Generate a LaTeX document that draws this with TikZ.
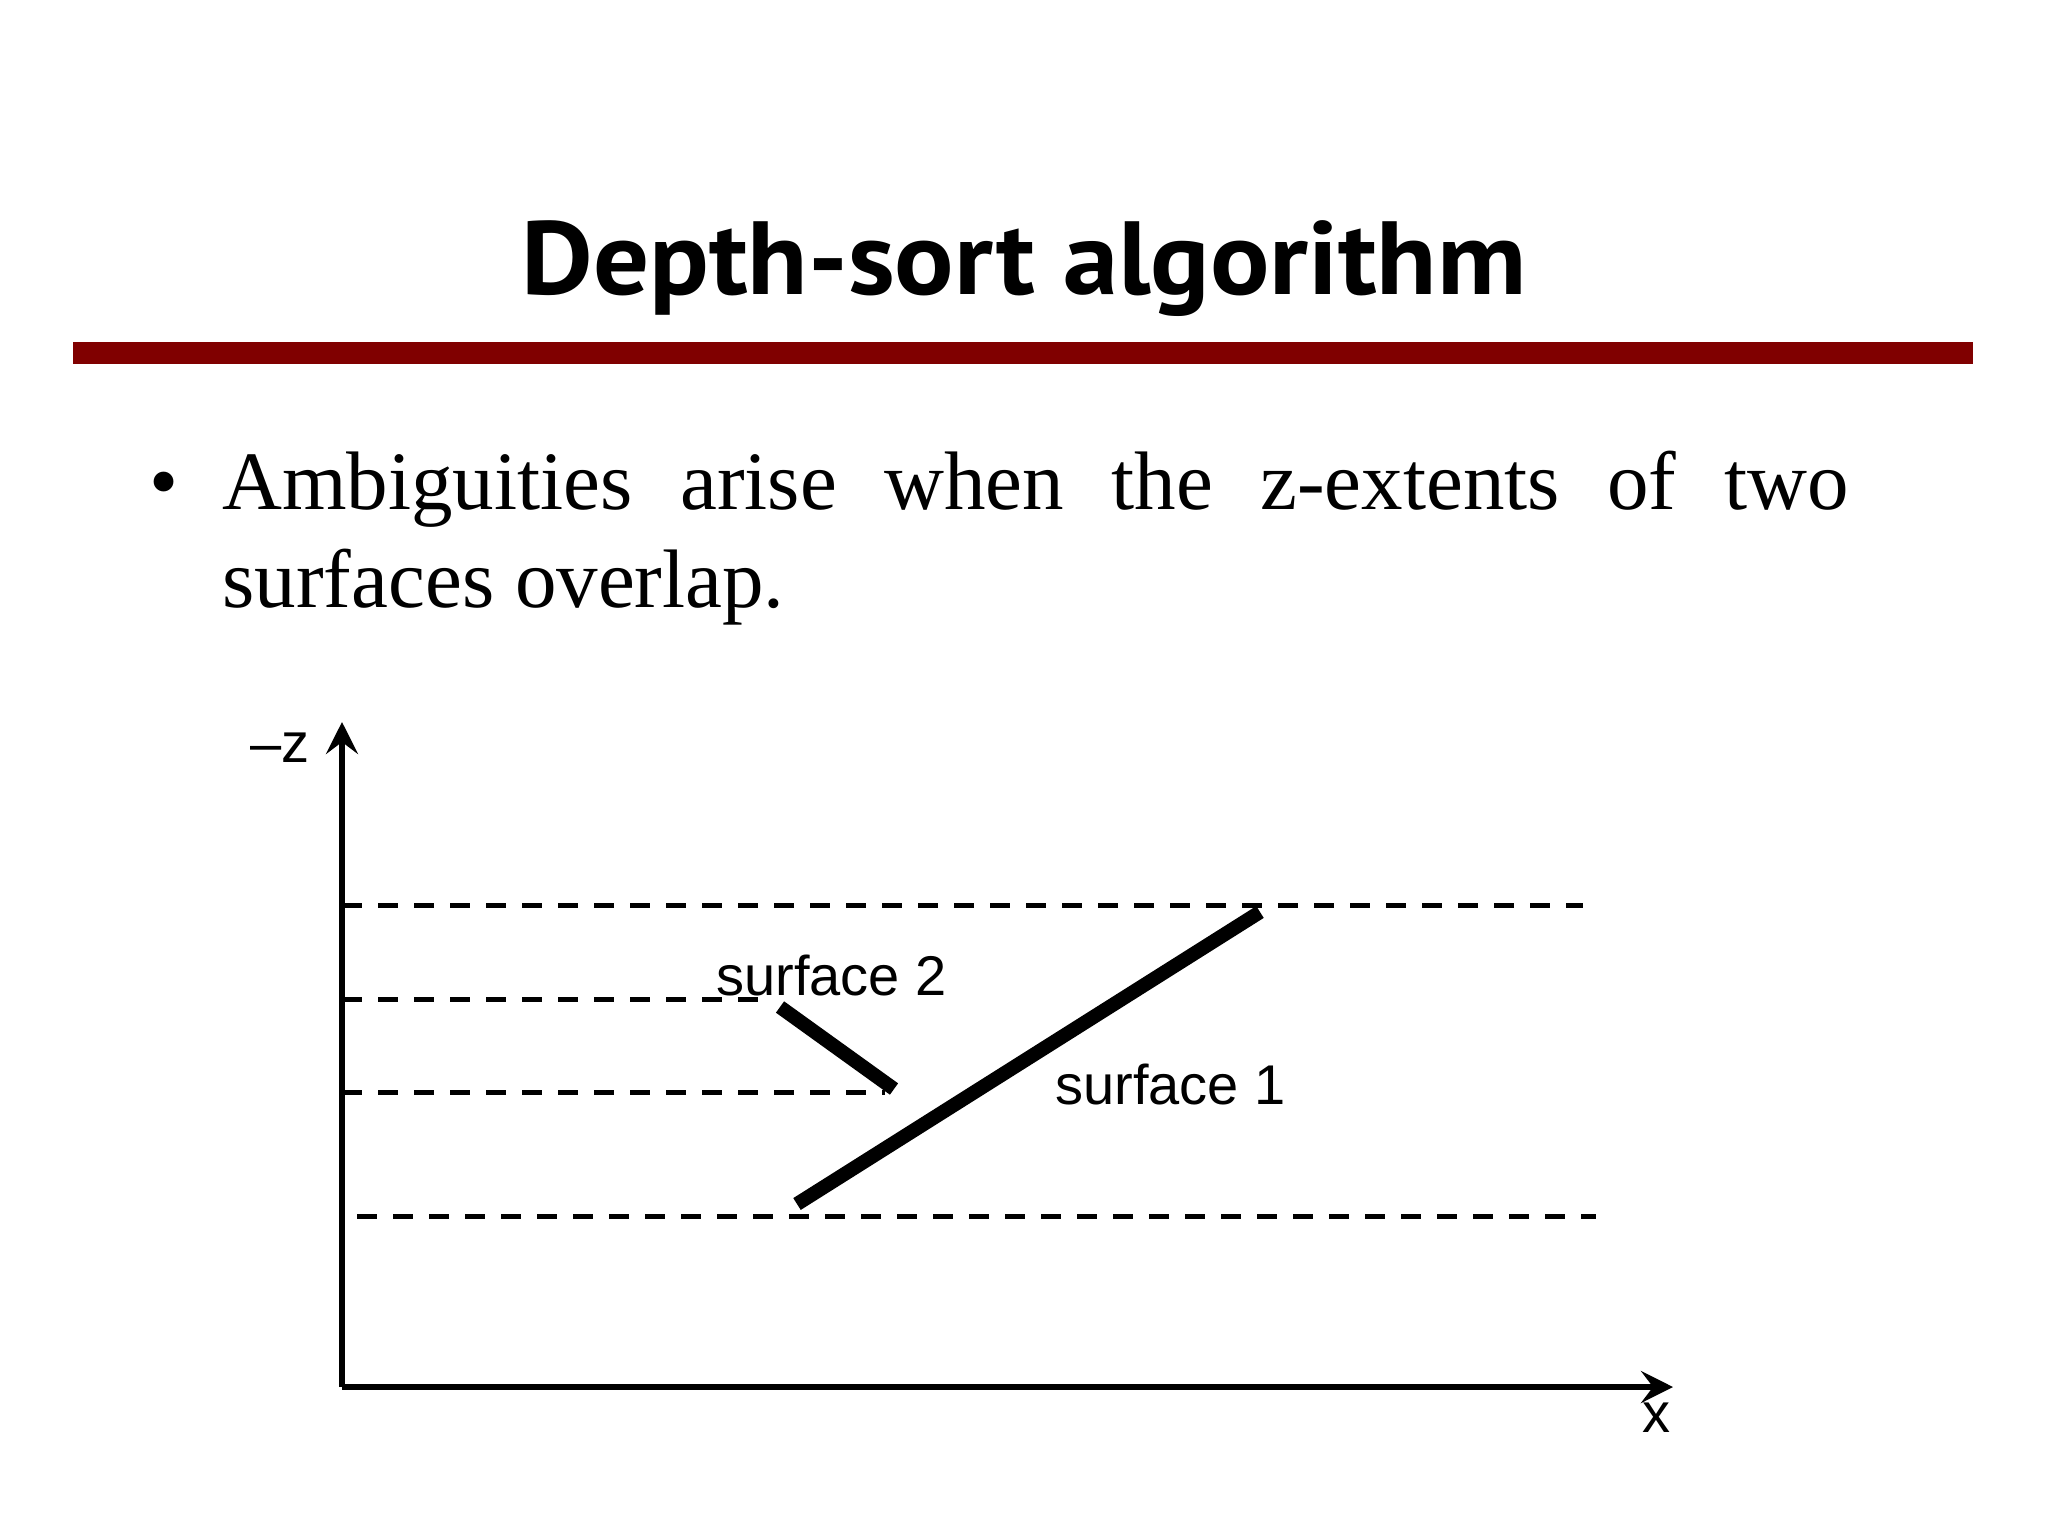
\documentclass[tikz,border=0pt]{standalone}
\usepackage{fontspec}
\setmainfont{Liberation Serif}
\newfontfamily\titlefont{PT Sans}[FakeStretch=1.065]
\newfontfamily\arialfont{Liberation Sans}
\usetikzlibrary{arrows.meta}
\definecolor{barred}{HTML}{800000}
\tikzset{
  axisline/.style={line width=3pt, -{Stealth[length=16pt,width=16pt,inset=6pt]}},
  dashline/.style={line width=2.5pt, dash pattern=on 10pt off 8pt},
  surfline/.style={line width=7pt},
  lbl/.style={anchor=base west, inner sep=0pt, font=\arialfont\fontsize{28}{32}\selectfont},
  bodytext/.style={anchor=base west, inner sep=0pt, font=\fontsize{41.5}{49}\selectfont}
}
\begin{document}
\begin{tikzpicture}[x=0.5pt,y=-0.5pt]
\useasboundingbox[fill=white] (0,0) rectangle (2048,1535);
% title
\node[anchor=base, inner sep=0pt, font=\titlefont\bfseries\fontsize{52}{60}\selectfont] (title) at (1024,295) {Depth-sort algorithm};
\fill[barred] (73,342) rectangle (1973,364);
% bullet text
\node[anchor=base, inner sep=0pt, font=\fontsize{41.5}{49}\selectfont] (dot) at (164,509) {•};
\node[bodytext] (line1) at (222,509) {\makebox[813pt][s]{Ambiguities arise when the z-extents of two}};
\node[bodytext] (line2) at (222,607) {surfaces overlap.};
% axes
\coordinate (O) at (342,1387);
\coordinate (ztop) at (342,722);
\coordinate (xend) at (1673,1387);
\draw[axisline] (O) -- (ztop);
\draw[axisline] (O) -- (xend);
\node[lbl] (zl) at (250,762) {–z};
\node[lbl] (xl) at (1642,1432) {x};
% dashed levels
\coordinate (d1a) at (342,905);  \coordinate (d1b) at (1583,905);
\coordinate (d2a) at (342,999);  \coordinate (d2b) at (770,999);
\coordinate (d3a) at (342,1092); \coordinate (d3b) at (885,1092);
\coordinate (d4a) at (357,1216); \coordinate (d4b) at (1596,1216);
\draw[dashline] (d1a) -- (d1b);
\draw[dashline] (d2a) -- (d2b);
\draw[dashline] (d3a) -- (d3b);
\draw[dashline] (d4a) -- (d4b);
% surfaces
\coordinate (s2a) at (780,1007); \coordinate (s2b) at (894,1089);
\coordinate (s1a) at (797,1204); \coordinate (s1b) at (1260,912);
\draw[surfline] (s2a) -- (s2b);
\draw[surfline] (s1a) -- (s1b);
\node[lbl] (s2l) at (716,995) {surface 2};
\node[lbl] (s1l) at (1055,1104) {surface 1};
\end{tikzpicture}
\end{document}
